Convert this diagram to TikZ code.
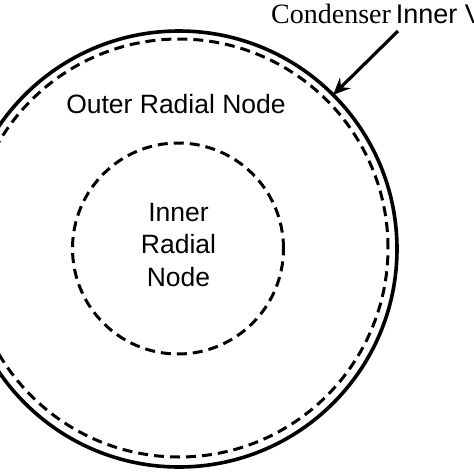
\documentclass[tikz,border=0pt]{standalone}
\usepackage{fontspec}
\setmainfont{Liberation Serif}
\setsansfont{Liberation Sans}
\usetikzlibrary{arrows.meta}
\tikzset{
  solidring/.style={circle, draw=black, line width=3.6pt, inner sep=0pt, outer sep=0pt},
  dashring/.style={circle, draw=black, line width=3pt, dash pattern=on 10pt off 6pt, inner sep=0pt, outer sep=0pt},
  lbl/.style={font=\sffamily\fontsize{26.5}{32.5}\selectfont, inner sep=0pt},
  pointer/.style={line width=3.2pt, -{Stealth[length=17pt, width=15pt, inset=6pt]}}
}
\begin{document}
\begin{tikzpicture}[x=1pt,y=-1pt]
\useasboundingbox (0,0) rectangle (474,474);
\fill[white] (0,0) rectangle (474,474);
\node[solidring, minimum size=436pt] (outer) at (179,249) {};
\node[dashring, minimum size=418pt] (outerdash) at (179,248) {};
\node[dashring, minimum size=211pt] (inner) at (178,248.5) {};
\node[lbl, anchor=base] (outerlbl) at (176,113) {Outer Radial Node};
\node[lbl, align=center, anchor=center] (innerlbl) at (178.5,245) {Inner\\Radial\\Node};
\node[inner sep=0pt, anchor=base west] (cond) at (271,23) {{\rmfamily\fontsize{28}{32}\selectfont Condenser}\hspace{5pt}{\sffamily\fontsize{27}{32}\selectfont Inner V}};
\coordinate (tail) at (398,31);
\draw[pointer] (tail) -- (outer.45);
\end{tikzpicture}
\end{document}
